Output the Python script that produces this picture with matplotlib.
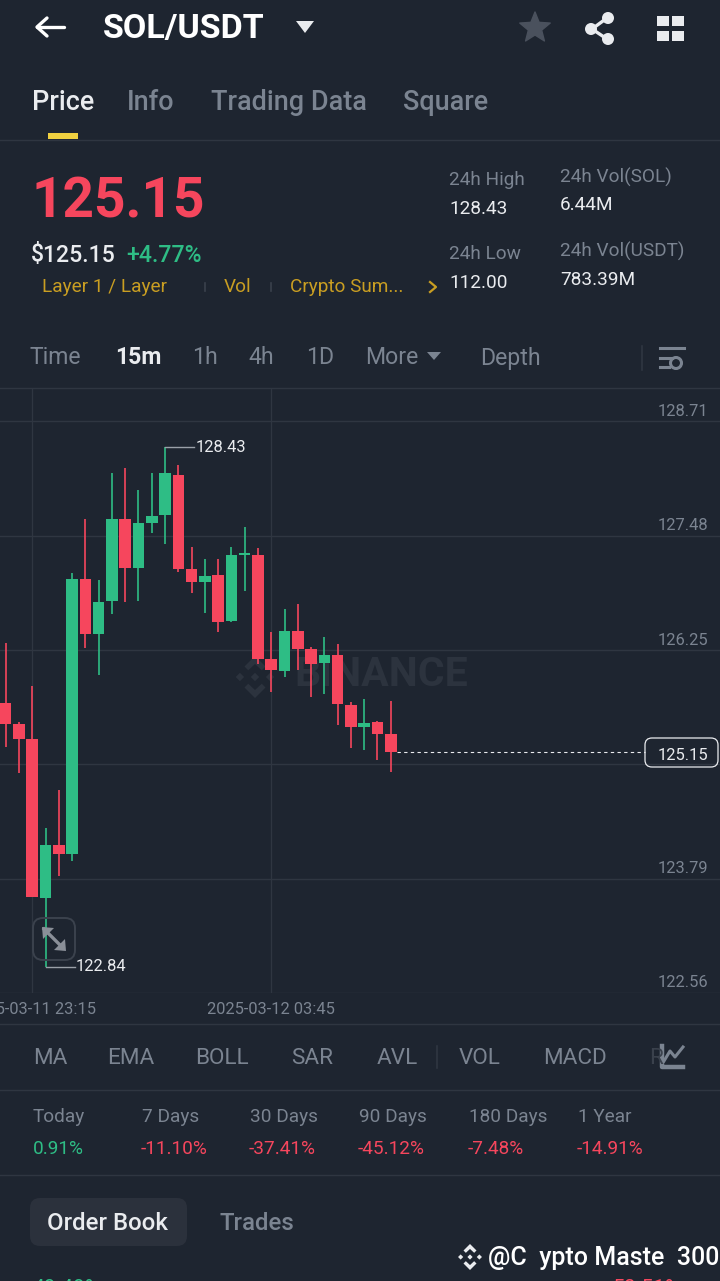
import numpy as np
import matplotlib
matplotlib.use('Agg')
import matplotlib.pyplot as plt
from matplotlib.patches import FancyBboxPatch, Polygon, Rectangle, Circle

plt.rcParams['font.family'] = ['Roboto', 'DejaVu Sans']

# =========================================================================
# data
# =========================================================================
opens = [125.68, 125.45, 125.29, 123.58, 124.15, 124.06, 127.01, 126.42, 126.78, 127.66,
         127.13, 127.62, 127.70, 128.13, 127.12, 126.98, 127.06, 126.56, 127.27, 127.27,
         126.15, 126.03, 126.46, 126.26, 126.11, 126.20, 125.66, 125.42, 125.48, 125.35]
closes = [125.45, 125.29, 123.59, 124.15, 124.06, 127.02, 126.42, 126.77, 127.66, 127.13,
          127.62, 127.69, 128.15, 127.12, 126.98, 127.05, 126.55, 127.27, 127.29, 126.15,
          126.04, 126.46, 126.26, 126.10, 126.20, 125.67, 125.42, 125.47, 125.35, 125.15]
highs = [126.33, 125.48, 125.86, 124.34, 124.74, 127.08, 127.66, 127.00, 128.15, 128.21,
         127.97, 128.16, 128.43, 128.24, 127.36, 127.23, 127.23, 127.36, 127.57, 127.35,
         126.44, 126.69, 126.75, 126.28, 126.39, 126.31, 125.69, 125.72, 125.49, 125.70]
lows = [125.21, 124.93, 123.59, 122.84, 123.82, 123.98, 126.27, 125.98, 126.64, 126.77,
        126.78, 127.51, 127.39, 127.09, 126.86, 126.65, 126.44, 126.55, 126.89, 126.10,
        125.80, 125.96, 126.04, 125.75, 125.78, 125.44, 125.20, 125.17, 125.07, 124.94]

y_ticks = [128.71, 127.48, 126.25, 125.02, 123.79, 122.56]
y_tick_labels = ['128.71', '127.48', '126.25', '', '123.79', '122.56']
x_tick_idx = [2, 20]
x_tick_labels = ['2025-03-11 23:15', '2025-03-12 03:45']
last_price = 125.15

tabs = ['Price', 'Info', 'Trading Data', 'Square']
tags = ['Layer 1 / Layer', 'Vol', 'Crypto Sum...']
intervals = ['Time', '15m', '1h', '4h', '1D', 'More', 'Depth']
indicators = ['MA', 'EMA', 'BOLL', 'SAR', 'AVL', 'VOL', 'MACD']
periods = ['Today', '7 Days', '30 Days', '90 Days', '180 Days', '1 Year']
period_changes = ['0.91%', '-11.10%', '-37.41%', '-45.12%', '-7.48%', '-14.91%']

BG = '#1e2530'
GRID = '#2f3641'
RED = '#f6465d'
GREEN = '#2ebd85'
GREY = '#7b8491'
LIGHT = '#eaecef'
GOLD = '#c99e22'

W, H = 720, 1281
fig = plt.figure(figsize=(W / 100, H / 100), dpi=100, facecolor=BG)


def px_axes(z):
    a = fig.add_axes([0, 0, 1, 1], zorder=z)
    a.set_xlim(0, W)
    a.set_ylim(H, 0)
    a.axis('off')
    a.patch.set_alpha(0)
    return a


def fs(px):
    return px * 0.72


def label(a, x, y, s, size, color=GREY, ha='left', weight='normal', **kw):
    return a.text(x, y, s, fontsize=fs(size), color=color, ha=ha, va='center', fontweight=weight, **kw)


def logo(a, cx, cy, r, color, **kw):
    # binance mark: centre + side diamonds, chevrons on top and bottom
    d = r * 0.2
    for dx, dy in [(0, 0), (-r * 0.72, 0), (r * 0.72, 0)]:
        a.add_patch(Polygon([(cx + dx - d, cy + dy), (cx + dx, cy + dy - d),
                             (cx + dx + d, cy + dy), (cx + dx, cy + dy + d)], fc=color, ec='none', **kw))
    for s in (-1, 1):
        a.add_patch(Polygon([(cx - r * 0.5, cy + s * r * 0.5), (cx, cy + s * r), (cx + r * 0.5, cy + s * r * 0.5),
                             (cx + r * 0.32, cy + s * r * 0.32), (cx, cy + s * r * 0.62),
                             (cx - r * 0.32, cy + s * r * 0.32)], fc=color, ec='none', **kw))


under = px_axes(0)
ui = px_axes(3)

# =========================================================================
# candles
# =========================================================================
chart_top, chart_bottom = 388, 993
ax = fig.add_axes([0, 1 - chart_bottom / H, 1, (chart_bottom - chart_top) / H], zorder=1)
ax.patch.set_alpha(0)
ax.set_xlim(-0.429, 53.8)
ax.set_ylim(122.56, 129.07)
for s in ax.spines.values():
    s.set_visible(False)
ax.set_xticks([])
ax.set_yticks([])

for p in y_ticks:
    ax.axhline(p, color=GRID, lw=1.0, zorder=1)
for i in x_tick_idx:
    ax.axvline(x_tick_idx[x_tick_idx.index(i)], color=GRID, lw=0.9, zorder=1)

opens_a, closes_a = np.array(opens), np.array(closes)
idx = np.arange(len(opens))
colors = [GREEN if c >= o else RED for o, c in zip(opens_a, closes_a)]
ax.vlines(idx, lows, highs, colors=colors, lw=1.2, zorder=3)
ax.bar(idx, np.abs(closes_a - opens_a), bottom=np.minimum(opens_a, closes_a), width=0.87,
       color=colors, zorder=4)

# axis price labels sit above their grid lines
for p, s in zip(y_ticks, y_tick_labels):
    ax.annotate(s, xy=(1, p), xycoords=('axes fraction', 'data'), xytext=(-fs(12), fs(10)),
                textcoords='offset points', ha='right', va='center', fontsize=fs(16.5), color=GREY)

# high / low markers
i_hi = int(np.argmax(highs))
i_lo = int(np.argmin(lows))
ax.plot([i_hi, i_hi + 2.2], [highs[i_hi], highs[i_hi]], color='#9aa0a8', lw=1.0, zorder=3)
ax.text(i_hi + 2.3, highs[i_hi], f'{highs[i_hi]:.2f}', color=LIGHT, fontsize=fs(16.5), va='center')
ax.plot([i_lo, i_lo + 2.2], [lows[i_lo], lows[i_lo]], color='#9aa0a8', lw=1.0, zorder=3)
ax.text(i_lo + 2.3, lows[i_lo], f'{lows[i_lo]:.2f}', color=LIGHT, fontsize=fs(16.5), va='center')

# last price line and tag
ax.plot([len(opens) - 0.5, 48.15], [last_price, last_price], color=LIGHT, lw=0.8, dashes=(3, 3), zorder=3)
ax.text(51.0, last_price - 0.03, f'{last_price:.2f}', color=LIGHT, fontsize=fs(16.5), ha='center', va='center', zorder=6)
ui.add_patch(FancyBboxPatch((650, 743), 63, 19, boxstyle='round,pad=5,rounding_size=7',
                            fc='none', ec=LIGHT, lw=0.9))

# date labels, the left one runs off the screen
for i, s in zip(x_tick_idx, x_tick_labels):
    ax.annotate(s, xy=(i, 0), xycoords=('data', 'axes fraction'), xytext=(0, -fs(16)),
                textcoords='offset points', ha='center', va='center', fontsize=fs(16.5), color=GREY,
                annotation_clip=False)

# watermark behind the candles
logo(under, 255, 677, 21, '#2c333e')
label(under, 294, 675, 'BINANCE', 41, color='#2c333e', weight='bold')

# =========================================================================
# header
# =========================================================================
ui.plot([37, 64], [27, 27], color='white', lw=2.4, solid_capstyle='round')
ui.plot([47, 37, 47], [18, 27, 36], color='white', lw=2.4, solid_capstyle='round', solid_joinstyle='round')
label(ui, 103, 29, 'SOL/USDT', 34, color='white', weight='bold')
ui.add_patch(Polygon([(296, 21), (314, 21), (305, 33)], fc=LIGHT, ec='none'))

# star
ang = np.deg2rad(np.arange(-90, 270, 36))
rad = np.where(np.arange(10) % 2 == 0, 16, 7)
ui.add_patch(Polygon(np.c_[535 + rad * np.cos(ang), 28 + rad * np.sin(ang)], fc='#4a515d', ec='#4a515d', lw=1, joinstyle='round'))

# share
ui.plot([607, 592, 607], [18, 29, 39], color=LIGHT, lw=2.4)
for cx, cy, r in [(608, 18, 6), (591, 29, 6), (608, 39, 6)]:
    ui.add_patch(Circle((cx, cy), r, fc=LIGHT, ec='none'))

# grid squares
for gx, gy in [(657, 16), (672, 16), (657, 31), (672, 31)]:
    ui.add_patch(Rectangle((gx, gy), 11.5, 10, fc=LIGHT, ec='none'))

for s, x, c, w in zip(tabs, [32, 127, 211, 403], [LIGHT, GREY, GREY, GREY], ['medium', 'medium', 'medium', 'medium']):
    label(ui, x, 103, s, 27, color=c, weight=w)
ui.add_patch(Rectangle((48, 133), 30, 6, fc='#f0d040', ec='none'))

for y in [139.5, 388, 1023.5, 1090, 1175]:
    ui.plot([0, W], [y, y], color=GRID, lw=1.0)

# =========================================================================
# price block
# =========================================================================
label(ui, 32, 202, f'{last_price:.2f}', 55, color=RED, weight='bold')
label(ui, 31, 256, f'${last_price:.2f}', 23, color=LIGHT, weight='medium')
label(ui, 126, 256, '+4.77%', 23, color=GREEN, weight='medium')
for s, x in zip(tags, [42, 224, 290]):
    label(ui, x, 287, s, 19, color=GOLD)
for x in [205, 271]:
    ui.plot([x, x], [283, 291], color='#3a414c', lw=1.2)
ui.plot([430, 436, 430], [282, 287, 292], color=GOLD, lw=1.6)

label(ui, 449, 180, '24h High', 19)
label(ui, 449, 209, '128.43', 19, color=LIGHT)
label(ui, 449, 254, '24h Low', 19)
label(ui, 449, 283, '112.00', 19, color=LIGHT)
label(ui, 560, 177, '24h Vol(SOL)', 19)
label(ui, 560, 205, '6.44M', 19, color=LIGHT)
label(ui, 560, 251, '24h Vol(USDT)', 19)
label(ui, 560, 280, '783.39M', 19, color=LIGHT)

# =========================================================================
# interval bar
# =========================================================================
for s, x in zip(intervals, [30, 115, 192, 248, 306, 365, 480]):
    if s == '15m':
        label(ui, x, 358, s, 23, color=LIGHT, weight='bold')
    else:
        label(ui, x, 358, s, 23)
ui.add_patch(Polygon([(427, 352), (441, 352), (434, 360)], fc=GREY, ec='none'))
ui.plot([642, 642], [346, 370], color=GRID, lw=1.2)
# settings icon
for y0, x1 in [(348, 684), (358, 672), (367, 669)]:
    ui.plot([660, x1], [y0, y0], color=GREY, lw=2.2)
ui.add_patch(Circle((676, 363), 5.5, fc=BG, ec=GREY, lw=2.2))

# expand button over the chart
ui.add_patch(FancyBboxPatch((39, 924), 30, 30, boxstyle='round,pad=6,rounding_size=10', fc='none', ec='#3b424d', lw=1.4))
ui.plot([44, 63], [929, 948], color='#8a8f98', lw=2.4)
ui.add_patch(Polygon([(42, 927), (54, 928), (43, 939)], fc='#8a8f98', ec='none'))
ui.add_patch(Polygon([(66, 951), (54, 950), (65, 939)], fc='#8a8f98', ec='none'))

# =========================================================================
# indicators and performance row
# =========================================================================
for s, x in zip(indicators, [33, 107, 195, 291, 377, 459, 543]):
    label(ui, x, 1058, s, 22.5)
ui.plot([437, 437], [1046, 1068], color=GRID, lw=1.2)
label(ui, 649, 1058, 'R', 22.5, color='#3a414c')
ui.add_patch(Rectangle((661, 1045), 23, 23, fc=BG, ec='none'))
ui.plot([662, 662, 683], [1046, 1067, 1067], color=GREY, lw=3.2)
ui.plot([664, 670, 675, 683], [1061, 1051, 1057, 1047], color=GREY, lw=2.2)

period_x = [33, 142, 250, 359, 469, 578]
for s, v, x in zip(periods, period_changes, period_x):
    label(ui, x, 1117, s, 19)
    label(ui, x - (1 if v.startswith('-') else 0), 1149, v, 19, color=RED if v.startswith('-') else GREEN)

# =========================================================================
# order book tabs, footer
# =========================================================================
ui.add_patch(FancyBboxPatch((38, 1206), 141, 32, boxstyle='round,pad=8,rounding_size=10', fc='#2b313c', ec='none'))
label(ui, 47, 1223, 'Order Book', 24, color=LIGHT, weight='medium')
label(ui, 220, 1223, 'Trades', 24, weight='medium')
label(ui, 32, 1289, '49.49%', 21, color=GREEN)
label(ui, 612, 1289, '50.51%', 21, color=RED)

logo(ui, 470, 1257, 13, LIGHT)
label(ui, 488, 1258, '@C  ypto Maste  300', 25, color='white', weight='medium')

fig.savefig('out.png', dpi=100, facecolor=BG)
